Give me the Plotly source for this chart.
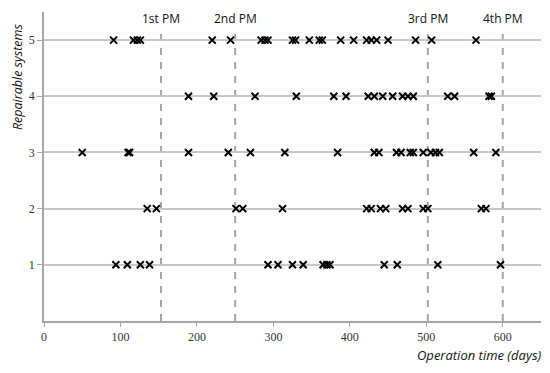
import plotly.graph_objects as go

systems = [1, 2, 3, 4, 5]
system1 = [94, 109, 126, 138, 293, 306, 325, 339, 365, 370, 374, 445, 462, 515, 597]
system2 = [135, 147, 251, 260, 312, 422, 428, 440, 447, 469, 476, 496, 502, 572, 578]
system3 = [50, 110, 112, 189, 241, 270, 315, 384, 432, 438, 461, 467, 479, 483, 496, 506, 512, 517, 562, 591]
system4 = [189, 222, 276, 330, 379, 395, 424, 432, 443, 456, 469, 476, 483, 528, 537, 582, 585]
system5 = [91, 117, 122, 126, 220, 244, 284, 289, 293, 325, 329, 347, 360, 364, 388, 405, 422, 428, 435, 450, 486, 507, 565]
failures = [system1, system2, system3, system4, system5]

pm_times = [153, 250, 502, 600]
pm_labels = ["1st PM", "2nd PM", "3rd PM", "4th PM"]
x_ticks = [0, 100, 200, 300, 400, 500, 600]

fig = go.Figure()
for s, xs in zip(systems, failures):
    fig.add_trace(go.Scatter(
        x=xs, y=[s] * len(xs), mode="markers",
        marker=dict(symbol="x-thin", size=7, line=dict(width=2, color="black"), color="black"),
        showlegend=False, hoverinfo="x+y", cliponaxis=False))

for t, lab in zip(pm_times, pm_labels):
    fig.add_shape(type="line", xref="x", yref="y", x0=t, x1=t, y0=0, y1=5.22,
                  line=dict(color="#a6a6a6", width=2, dash="7px,7px"), layer="below")
    fig.add_annotation(x=t, y=5.39, xref="x", yref="y", text=lab, showarrow=False,
                       font=dict(family="Open Sans", size=12, color="#111111"),
                       xanchor="center", yanchor="middle")

fig.add_annotation(x=1.004, y=-0.109, xref="paper", yref="paper",
                   text="<i>Operation time (days)</i>", showarrow=False,
                   font=dict(family="Open Sans", size=13, color="#111111"),
                   xanchor="right", yanchor="middle")
fig.add_annotation(x=-0.052, y=0.79, xref="paper", yref="paper",
                   text="<i>Repairable systems</i>", showarrow=False, textangle=-90,
                   font=dict(family="Open Sans", size=12.5, color="#111111"),
                   xanchor="center", yanchor="middle")

fig.update_layout(
    width=542, height=365,
    margin=dict(l=36, r=9, t=4, b=52, autoexpand=False),
    plot_bgcolor="white", paper_bgcolor="white",
    xaxis=dict(range=[0, 650], tickvals=x_ticks, showgrid=False, zeroline=False, automargin=False,
               showline=True, linecolor="#a6a6a6", linewidth=1.5,
               ticks="outside", ticklen=4, tickcolor="#a6a6a6",
               tickfont=dict(family="Liberation Serif", size=12, color="#333333")),
    yaxis=dict(range=[0, 5.5], tickvals=systems, showgrid=True, gridcolor="#c8c8c8", gridwidth=1.5,
               zeroline=False, showline=True, linecolor="#a6a6a6", linewidth=1.5, automargin=False,
               ticks="outside", ticklen=5, tickcolor="#a6a6a6",
               tickfont=dict(family="Liberation Serif", size=12, color="#333333")),
)

fig.write_html("out.html")
